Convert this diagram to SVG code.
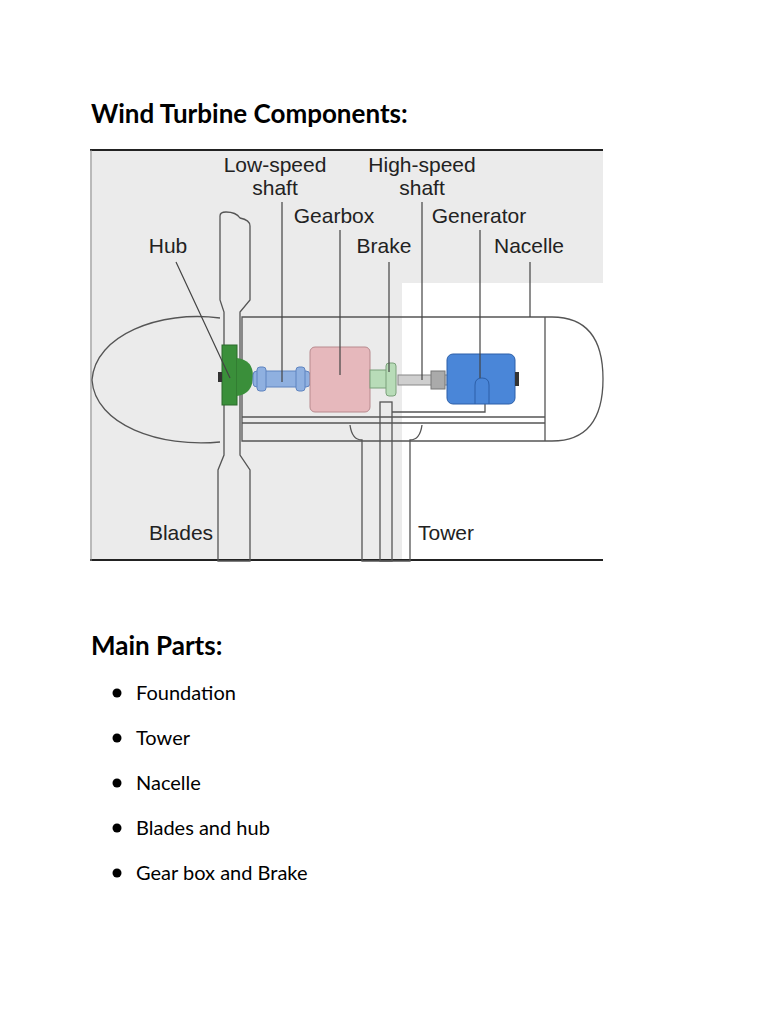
<svg xmlns="http://www.w3.org/2000/svg" width="768" height="1024" viewBox="0 0 768 1024">
<style>
.h{font-family:Lato,"Liberation Sans",sans-serif;font-weight:bold;font-size:26px;fill:#000}
.b{font-family:Lato,"Liberation Sans",sans-serif;font-size:20px;fill:#000}
.l{font-family:"Liberation Sans",Arial,sans-serif;font-size:21px;fill:#222;text-anchor:middle}
.o{fill:none;stroke:#555;stroke-width:1.3}
.ld{stroke:#444;stroke-width:1.2;fill:none}
</style>
<rect width="768" height="1024" fill="#fff"/>
<text class="h" x="91" y="123">Wind Turbine Components:</text>
<g id="figure">
<rect x="90" y="150" width="513" height="411" fill="#ebebeb"/>
<rect x="402" y="283" width="201" height="278" fill="#fff"/>
<line x1="90" y1="150" x2="603" y2="150" stroke="#222" stroke-width="2"/>
<line x1="90" y1="560" x2="603" y2="560" stroke="#222" stroke-width="2"/>
<line x1="91" y1="150" x2="91" y2="561" stroke="#888"/>
<path class="o" d="M220,318 C160,310 95,335 92,380 C95,425 160,448 220,442" fill="#fff"/>
<path class="o" d="M242,317 H552 Q603,317 603,379 Q603,441 552,441 H242 Z" fill="#fff"/>
<g id="frame">
<path class="o" d="M242,417 H545 M242,423 H545 M545,317 V441" />
<path class="o" d="M350,425 Q352,440 362,440 V561 H410 V440 Q420,440 422,425" fill="#ddd"/>
<rect class="o" x="380" y="402" width="12" height="159" fill="#eee"/>
<path class="o" d="M392,412 H485 V395"/>
</g>
<g id="blade">
<path class="o" fill="#f4f4f4" d="M220,216 Q220,212 226,212 Q236,212 240,218 Q250,220 250,226 V300 L240,312 V455 L250,470 V561 H218 V470 L224,455 V312 L220,300 Z"/>
</g>
<g id="hub"><rect x="222" y="345" width="15" height="60" fill="#3a8f3a" stroke="#2a6a2a"/><path d="M237,358 Q253,360 253,376 Q253,394 237,396 Z" fill="#3a8f3a"/><rect x="218" y="372" width="4" height="10" fill="#333"/></g>
<g id="lowshaft"><rect x="253" y="371" width="57" height="16" rx="4" fill="#8fb0e0" stroke="#5f84c0"/><rect x="257" y="367" width="9" height="24" rx="3" fill="#8fb0e0" stroke="#5f84c0"/><rect x="296" y="367" width="9" height="24" rx="3" fill="#8fb0e0" stroke="#5f84c0"/></g>
<g id="gearbox"><rect x="310" y="347" width="60" height="65" rx="5" fill="#e6b8bc" stroke="#b88a8e"/></g>
<g id="brake"><rect x="370" y="370" width="18" height="18" fill="#b8dcb8" stroke="#7aa07a"/><rect x="386" y="363" width="10" height="33" rx="3" fill="#b8dcb8" stroke="#7aa07a"/></g>
<g id="highshaft"><rect x="398" y="375" width="50" height="10" fill="#cfcfcf" stroke="#888"/><rect x="431" y="371" width="14" height="18" fill="#aaa" stroke="#777"/></g>
<g id="generator"><rect x="447" y="354" width="68" height="50" rx="6" fill="#4a86d8" stroke="#2c5fa8"/><rect x="515" y="372" width="4" height="14" fill="#333"/><path d="M475,404 V385 Q475,378 482,378 Q489,378 489,385 V404" fill="none" stroke="#2c5fa8"/></g>
<g id="labels">
<text class="l" x="275" y="172">Low-speed</text><text class="l" x="275" y="195">shaft</text>
<text class="l" x="422" y="172">High-speed</text><text class="l" x="422" y="195">shaft</text>
<text class="l" x="334" y="223">Gearbox</text><text class="l" x="479" y="223">Generator</text>
<text class="l" x="168" y="253">Hub</text><text class="l" x="384" y="253">Brake</text><text class="l" x="529" y="253">Nacelle</text>
<text class="l" x="181" y="540">Blades</text><text class="l" x="446" y="540">Tower</text>
</g>
</g>
<g id="connectors">
<path class="ld" d="M176,262 L230,378 M282,202 V382 M340,230 V375 M389,262 V372 M422,202 V380 M480,230 V378 M530,262 V317"/>
</g>
<text class="h" x="91" y="655">Main Parts:</text>
<g class="b">
<circle cx="117" cy="693" r="4.5"/><text x="136" y="700">Foundation</text>
<circle cx="117" cy="738" r="4.5"/><text x="136" y="745">Tower</text>
<circle cx="117" cy="783" r="4.5"/><text x="136" y="790">Nacelle</text>
<circle cx="117" cy="828" r="4.5"/><text x="136" y="835">Blades and hub</text>
<circle cx="117" cy="873" r="4.5"/><text x="136" y="880">Gear box and Brake</text>
</g>
</svg>
